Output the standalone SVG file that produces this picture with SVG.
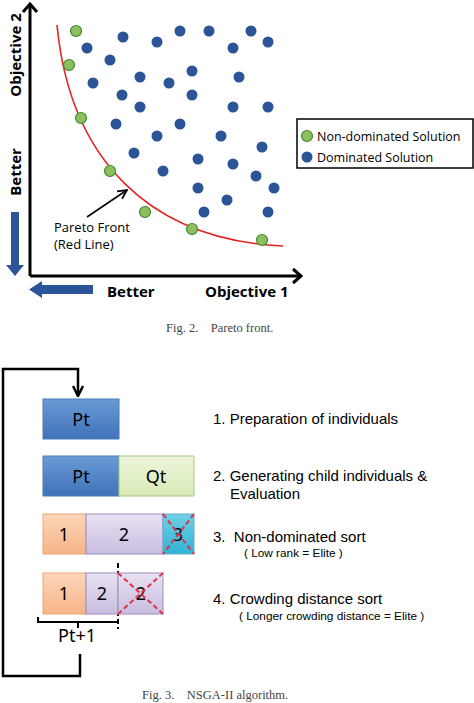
<svg xmlns="http://www.w3.org/2000/svg" width="474" height="703" viewBox="0 0 474 703">
<defs>
<style>
.ax{stroke:#000;stroke-width:3;fill:none}
.nd{fill:#8dbf5f;stroke:#3f8a2e;stroke-width:1.2}
.d{fill:#2c5597}
.lbl{font-family:"Open Sans","Liberation Sans",sans-serif;fill:#000}
.bold{font-family:"Open Sans","Liberation Sans",sans-serif;font-weight:bold;fill:#000}
.cap{font-family:"Liberation Serif",serif;fill:#444;font-size:12.5px;white-space:pre}
.box{font-family:"Noto Sans","Liberation Sans",sans-serif;font-size:18px;fill:#000;text-anchor:middle}
.step{font-family:"Liberation Sans",Arial,sans-serif;font-size:15px;fill:#000}
.sub{font-family:"Liberation Sans",Arial,sans-serif;font-size:11.8px;fill:#000}
.x{stroke:#e0324a;stroke-width:2;stroke-dasharray:5 3;fill:none}
.conn{stroke:#000;stroke-width:2.5;fill:none}
</style>
<linearGradient id="gB" x1="0" y1="0" x2="0" y2="1"><stop offset="0" stop-color="#6a9ad6"/><stop offset="1" stop-color="#3f73b8"/></linearGradient>
<linearGradient id="gG" x1="0" y1="0" x2="0" y2="1"><stop offset="0" stop-color="#eef6dd"/><stop offset="1" stop-color="#d6eab5"/></linearGradient>
<linearGradient id="gO" x1="0" y1="0" x2="0" y2="1"><stop offset="0" stop-color="#fcd6bb"/><stop offset="1" stop-color="#f6b486"/></linearGradient>
<linearGradient id="gP" x1="0" y1="0" x2="0" y2="1"><stop offset="0" stop-color="#e8e1f2"/><stop offset="1" stop-color="#c9bde0"/></linearGradient>
<linearGradient id="gC" x1="0" y1="0" x2="0" y2="1"><stop offset="0" stop-color="#6fd0e6"/><stop offset="1" stop-color="#2fb3d4"/></linearGradient>
<marker id="ah" viewBox="0 0 10 10" refX="9" refY="5" markerWidth="5" markerHeight="5" orient="auto"><path d="M1,1 L9,5 L1,9" fill="none" stroke="#000" stroke-width="2"/></marker>
<marker id="ah2" viewBox="0 0 10 10" refX="9" refY="5" markerWidth="7" markerHeight="7" orient="auto"><path d="M1,1 L9,5 L1,9" fill="none" stroke="#000" stroke-width="1.6"/></marker>
</defs>
<rect width="474" height="703" fill="#fff"/>

<!-- Fig 2 -->
<g id="axes">
<path class="ax" d="M30,276 V6"/>
<path class="ax" d="M23,12 L30,4 L37,12"/>
<path class="ax" d="M30,276 H300"/>
<path class="ax" d="M293,269 L301,276 L293,283"/>
</g>
<g id="better-arrows" fill="#2c5597">
<path d="M11,212 H19 V265 H24 L15,276 L6,265 H11 Z"/>
<path d="M93,285 V294 H42 V298 L29,289.5 L42,281 V285 Z"/>
</g>
<g id="axis-labels">
<text class="bold" font-size="15" transform="translate(21,55) rotate(-90)" text-anchor="middle">Objective 2</text>
<text class="bold" font-size="15" transform="translate(21,172) rotate(-90)" text-anchor="middle">Better</text>
<text class="bold" font-size="15" x="107" y="297">Better</text>
<text class="bold" font-size="15" x="205" y="297">Objective 1</text>
</g>
<g id="pareto-front">
<path d="M57,25 C70,160 150,240 283,246" fill="none" stroke="#e32322" stroke-width="1.6"/>
</g>
<g id="dominated">
<circle class="d" cx="123" cy="37" r="5.5"/><circle class="d" cx="157" cy="42" r="5.5"/>
<circle class="d" cx="180" cy="31" r="5.5"/><circle class="d" cx="209" cy="31" r="5.5"/>
<circle class="d" cx="251" cy="31" r="5.5"/><circle class="d" cx="233" cy="48" r="5.5"/>
<circle class="d" cx="268" cy="42" r="5.5"/><circle class="d" cx="87" cy="48" r="5.5"/>
<circle class="d" cx="110" cy="60" r="5.5"/><circle class="d" cx="192" cy="71" r="5.5"/>
<circle class="d" cx="140" cy="77" r="5.5"/><circle class="d" cx="169" cy="83" r="5.5"/>
<circle class="d" cx="239" cy="77" r="5.5"/><circle class="d" cx="93" cy="83" r="5.5"/>
<circle class="d" cx="122" cy="95" r="5.5"/><circle class="d" cx="192" cy="95" r="5.5"/>
<circle class="d" cx="140" cy="107" r="5.5"/><circle class="d" cx="233" cy="107" r="5.5"/>
<circle class="d" cx="268" cy="107" r="5.5"/><circle class="d" cx="116" cy="124" r="5.5"/>
<circle class="d" cx="180" cy="124" r="5.5"/><circle class="d" cx="157" cy="136" r="5.5"/>
<circle class="d" cx="221" cy="136" r="5.5"/><circle class="d" cx="262" cy="147" r="5.5"/>
<circle class="d" cx="134" cy="153" r="5.5"/><circle class="d" cx="198" cy="159" r="5.5"/>
<circle class="d" cx="233" cy="164" r="5.5"/><circle class="d" cx="163" cy="171" r="5.5"/>
<circle class="d" cx="256" cy="176" r="5.5"/><circle class="d" cx="198" cy="188" r="5.5"/>
<circle class="d" cx="274" cy="188" r="5.5"/><circle class="d" cx="227" cy="200" r="5.5"/>
<circle class="d" cx="204" cy="212" r="5.5"/><circle class="d" cx="268" cy="212" r="5.5"/>
</g>
<g id="non-dominated">
<circle class="nd" cx="76" cy="31" r="5.5"/><circle class="nd" cx="69" cy="65" r="5.5"/>
<circle class="nd" cx="81" cy="118" r="5.5"/><circle class="nd" cx="110" cy="171" r="5.5"/>
<circle class="nd" cx="145" cy="212" r="5.5"/><circle class="nd" cx="192" cy="229" r="5.5"/>
<circle class="nd" cx="262" cy="240" r="5.5"/>
</g>
<g id="pareto-label">
<path d="M87,217 L127,190" stroke="#000" stroke-width="1.6" marker-end="url(#ah2)" fill="none"/>
<text class="lbl" font-size="13" x="54" y="232">Pareto Front</text>
<text class="lbl" font-size="13" x="54" y="249">(Red Line)</text>
</g>
<g id="legend">
<rect x="297" y="119" width="176" height="49" fill="#fff" stroke="#000" stroke-width="1.5"/>
<circle class="nd" cx="307" cy="136" r="5.5"/>
<circle class="d" cx="307" cy="157" r="5.5"/>
<text class="lbl" font-size="12.5" x="317" y="140.5">Non-dominated Solution</text>
<text class="lbl" font-size="12.5" x="317" y="161.5">Dominated Solution</text>
</g>
<text class="cap" x="166" y="332" xml:space="preserve">Fig. 2.    Pareto front.</text>

<!-- Fig 3 -->
<g id="connectors">
<path class="conn" d="M80,654 V676 H3 V369 H78 V396" marker-end="url(#ah)"/>
<path d="M118,563 V629" stroke="#000" stroke-width="2" stroke-dasharray="5 3"/>
<path d="M38,617 V622 H118 M78,622 V628" stroke="#000" stroke-width="2" fill="none"/>
</g>
<g id="row1">
<rect x="43" y="399" width="76" height="40" fill="url(#gB)" stroke="#4c7dbb"/>
<text class="box" x="81" y="426">Pt</text>
<text class="step" x="213" y="424">1. Preparation of individuals</text>
</g>
<g id="row2">
<rect x="43" y="456" width="76" height="40" fill="url(#gB)" stroke="#4c7dbb"/>
<rect x="119" y="456" width="75" height="40" fill="url(#gG)" stroke="#a6c77c"/>
<text class="box" x="81" y="483">Pt</text>
<text class="box" x="156" y="483">Qt</text>
<text class="step" x="213" y="481">2. Generating child individuals &amp;</text>
<text class="step" x="230" y="498.5">Evaluation</text>
</g>
<g id="row3">
<rect x="43" y="514" width="43" height="40" fill="url(#gO)" stroke="#eba57a"/>
<rect x="86" y="514" width="77" height="40" fill="url(#gP)" stroke="#9c8cc0"/>
<rect x="163" y="514" width="31" height="40" fill="url(#gC)" stroke="#6aa9c4"/>
<text class="box" x="64" y="541">1</text>
<text class="box" x="124" y="541">2</text>
<text class="box" x="178" y="541">3</text>
<path class="x" d="M163,514 L194,554 M194,514 L163,554"/>
<text class="step" x="213" y="542" xml:space="preserve">3.  Non-dominated sort</text>
<text class="sub" x="244" y="557">( Low rank = Elite )</text>
</g>
<g id="row4">
<rect x="43" y="573" width="43" height="41" fill="url(#gO)" stroke="#eba57a"/>
<rect x="86" y="573" width="32" height="41" fill="url(#gP)" stroke="#9c8cc0"/>
<rect x="118" y="573" width="45" height="41" fill="url(#gP)" stroke="#9c8cc0"/>
<text class="box" x="64" y="600">1</text>
<text class="box" x="102" y="600">2</text>
<text class="box" x="141" y="600">2</text>
<path class="x" d="M118,573 L163,614 M163,573 L118,614"/>
<text class="step" x="213" y="604">4. Crowding distance sort</text>
<text class="sub" x="239" y="620">( Longer crowding distance = Elite )</text>
</g>
<g id="pt1">
<text class="box" font-size="17" x="77" y="642">Pt+1</text>
</g>
<text class="cap" x="142" y="699" xml:space="preserve">Fig. 3.    NSGA-II algorithm.</text>
</svg>
